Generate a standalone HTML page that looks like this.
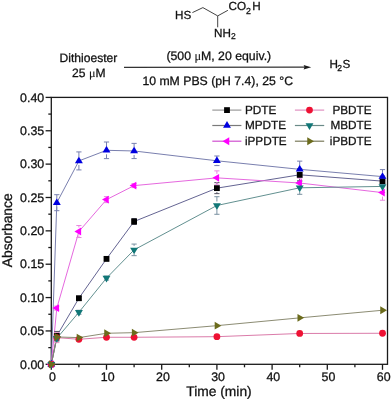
<!DOCTYPE html>
<html><head><meta charset="utf-8"><style>
html,body{margin:0;padding:0;background:#fff;width:392px;height:400px;overflow:hidden;font-family:"Liberation Sans",sans-serif;}
svg{display:block;will-change:transform;} text{text-rendering:geometricPrecision;}
</style></head><body>
<svg width="392" height="400" viewBox="0 0 392 400">
<rect width="392" height="400" fill="#fff"/>
<g font-family="Liberation Sans, sans-serif" fill="#111" stroke="#111" stroke-width="0.28">
<text x="175" y="19.1" font-size="11.7">HS</text>
<polyline points="192.4,12.6 202.9,7.6 217.7,15.9 227.9,10.3" fill="none" stroke="#444" stroke-width="1" />
<line x1="217.7" y1="15.9" x2="217.7" y2="27.3" stroke="#444" stroke-width="1"/>
<text x="214.0" y="36.8" font-size="11.7">NH</text><text x="231.0" y="39.4" font-size="8.5">2</text>
<text x="228.6" y="10.4" font-size="11.7">CO</text><text x="245.9" y="13.5" font-size="8.8">2</text><text x="252.2" y="10.4" font-size="11.7">H</text>
<text x="88.4" y="62.2" font-size="12.1" text-anchor="middle">Dithioester</text>
<text x="88.8" y="76.8" font-size="12.1" text-anchor="middle">25 <tspan font-family="Liberation Serif, serif" stroke-width="0.1">&#956;</tspan>M</text>
<text x="218.8" y="59.6" font-size="12.3" text-anchor="middle">(500 <tspan font-family="Liberation Serif, serif" stroke-width="0.1">&#956;</tspan>M, 20 equiv.)</text>
<text x="217.7" y="85.2" font-size="12.25" text-anchor="middle">10 mM PBS (pH 7.4), 25 &#176;C</text>
<line x1="124.0" y1="67.4" x2="306" y2="67.2" stroke="#333" stroke-width="1.25"/>
<polygon points="303.6,65.0 311.2,67.3 303.6,69.6 304.6,67.3" fill="#1a1a1a" stroke="none"/>
<text x="329.5" y="68.4" font-size="11.7">H</text><text x="337.2" y="71.1" font-size="8.6">2</text><text x="342.4" y="68.4" font-size="11.7">S</text>
</g>
<g stroke="#1a1a1a" stroke-width="1.3" fill="none">
<rect x="51.3" y="97.4" width="336.2" height="266.9"/>
<line x1="45.6" y1="364.30" x2="51.3" y2="364.30"/>
<line x1="45.6" y1="330.94" x2="51.3" y2="330.94"/>
<line x1="45.6" y1="297.57" x2="51.3" y2="297.57"/>
<line x1="45.6" y1="264.21" x2="51.3" y2="264.21"/>
<line x1="45.6" y1="230.85" x2="51.3" y2="230.85"/>
<line x1="45.6" y1="197.49" x2="51.3" y2="197.49"/>
<line x1="45.6" y1="164.12" x2="51.3" y2="164.12"/>
<line x1="45.6" y1="130.76" x2="51.3" y2="130.76"/>
<line x1="45.6" y1="97.40" x2="51.3" y2="97.40"/>
<line x1="48.3" y1="347.62" x2="51.3" y2="347.62"/>
<line x1="48.3" y1="314.26" x2="51.3" y2="314.26"/>
<line x1="48.3" y1="280.89" x2="51.3" y2="280.89"/>
<line x1="48.3" y1="247.53" x2="51.3" y2="247.53"/>
<line x1="48.3" y1="214.17" x2="51.3" y2="214.17"/>
<line x1="48.3" y1="180.81" x2="51.3" y2="180.81"/>
<line x1="48.3" y1="147.44" x2="51.3" y2="147.44"/>
<line x1="48.3" y1="114.08" x2="51.3" y2="114.08"/>
<line x1="51.30" y1="364.3" x2="51.30" y2="369.8"/>
<line x1="106.50" y1="364.3" x2="106.50" y2="369.8"/>
<line x1="161.70" y1="364.3" x2="161.70" y2="369.8"/>
<line x1="216.90" y1="364.3" x2="216.90" y2="369.8"/>
<line x1="272.10" y1="364.3" x2="272.10" y2="369.8"/>
<line x1="327.30" y1="364.3" x2="327.30" y2="369.8"/>
<line x1="382.50" y1="364.3" x2="382.50" y2="369.8"/>
<line x1="78.90" y1="364.3" x2="78.90" y2="367.3"/>
<line x1="134.10" y1="364.3" x2="134.10" y2="367.3"/>
<line x1="189.30" y1="364.3" x2="189.30" y2="367.3"/>
<line x1="244.50" y1="364.3" x2="244.50" y2="367.3"/>
<line x1="299.70" y1="364.3" x2="299.70" y2="367.3"/>
<line x1="354.90" y1="364.3" x2="354.90" y2="367.3"/>
</g>
<g font-family="Liberation Sans, sans-serif" fill="#111" font-size="12.4" stroke="#111" stroke-width="0.28">
<text x="44.2" y="368.55" text-anchor="end">0.00</text>
<text x="44.2" y="335.19" text-anchor="end">0.05</text>
<text x="44.2" y="301.82" text-anchor="end">0.10</text>
<text x="44.2" y="268.46" text-anchor="end">0.15</text>
<text x="44.2" y="235.10" text-anchor="end">0.20</text>
<text x="44.2" y="201.74" text-anchor="end">0.25</text>
<text x="44.2" y="168.37" text-anchor="end">0.30</text>
<text x="44.2" y="135.01" text-anchor="end">0.35</text>
<text x="44.2" y="101.65" text-anchor="end">0.40</text>
<text x="52.50" y="380.7" text-anchor="middle">0</text>
<text x="107.70" y="380.7" text-anchor="middle">10</text>
<text x="162.90" y="380.7" text-anchor="middle">20</text>
<text x="218.10" y="380.7" text-anchor="middle">30</text>
<text x="273.30" y="380.7" text-anchor="middle">40</text>
<text x="328.50" y="380.7" text-anchor="middle">50</text>
<text x="383.70" y="380.7" text-anchor="middle">60</text>
</g>
<text x="219.0" y="395.8" font-family="Liberation Sans, sans-serif" font-size="13.8" text-anchor="middle" fill="#111" stroke="#111" stroke-width="0.28">Time (min)</text>
<text transform="translate(11.7,230.3) rotate(-90)" font-family="Liberation Sans, sans-serif" font-size="13.9" text-anchor="middle" fill="#111" stroke="#111" stroke-width="0.28">Absorbance</text>
<polyline points="51.30,364.30 56.82,335.94 78.90,298.24 106.50,258.87 134.10,221.51 216.90,188.15 299.70,174.80 382.50,181.14" fill="none" stroke="#5c5c8c" stroke-width="0.95"/>
<polyline points="51.30,364.30 56.82,202.69 78.90,160.92 106.50,150.31 134.10,150.98 216.90,160.79 299.70,169.33 382.50,176.60" fill="none" stroke="#7278aa" stroke-width="0.95"/>
<polyline points="51.30,364.30 56.82,308.12 78.90,231.52 106.50,199.62 134.10,185.61 216.90,177.87 299.70,183.01 382.50,192.62" fill="none" stroke="#e460dc" stroke-width="0.95"/>
<polyline points="51.30,364.30 56.82,337.61 78.90,339.28 106.50,337.28 134.10,337.28 216.90,336.68 299.70,333.47 382.50,333.27" fill="none" stroke="#d874a4" stroke-width="0.95"/>
<polyline points="51.30,364.30 56.82,338.28 78.90,312.25 106.50,278.09 134.10,249.87 216.90,205.49 299.70,187.81 382.50,186.41" fill="none" stroke="#5a8a8a" stroke-width="0.95"/>
<polyline points="51.30,364.30 56.82,336.94 78.90,337.61 106.50,333.27 134.10,332.67 216.90,325.67 299.70,317.86 382.50,310.25" fill="none" stroke="#86866c" stroke-width="0.95"/>
<g stroke="#505060" stroke-width="1" fill="none"><line x1="56.82" y1="331.44" x2="56.82" y2="331.94"/><line x1="56.82" y1="339.94" x2="56.82" y2="340.44"/><line x1="54.22" y1="331.44" x2="59.42" y2="331.44"/><line x1="54.22" y1="340.44" x2="59.42" y2="340.44"/></g>
<g stroke="#505060" stroke-width="1" fill="none"><line x1="76.30" y1="296.24" x2="81.50" y2="296.24"/><line x1="76.30" y1="300.24" x2="81.50" y2="300.24"/></g>
<g stroke="#505060" stroke-width="1" fill="none"><line x1="103.90" y1="256.87" x2="109.10" y2="256.87"/><line x1="103.90" y1="260.87" x2="109.10" y2="260.87"/></g>
<g stroke="#505060" stroke-width="1" fill="none"><line x1="131.50" y1="218.51" x2="136.70" y2="218.51"/><line x1="131.50" y1="224.51" x2="136.70" y2="224.51"/></g>
<g stroke="#505060" stroke-width="1" fill="none"><line x1="216.90" y1="182.65" x2="216.90" y2="184.15"/><line x1="216.90" y1="192.15" x2="216.90" y2="193.65"/><line x1="214.30" y1="182.65" x2="219.50" y2="182.65"/><line x1="214.30" y1="193.65" x2="219.50" y2="193.65"/></g>
<g stroke="#505060" stroke-width="1" fill="none"><line x1="299.70" y1="168.80" x2="299.70" y2="170.80"/><line x1="299.70" y1="178.80" x2="299.70" y2="180.80"/><line x1="297.10" y1="168.80" x2="302.30" y2="168.80"/><line x1="297.10" y1="180.80" x2="302.30" y2="180.80"/></g>
<g stroke="#505060" stroke-width="1" fill="none"><line x1="382.50" y1="176.14" x2="382.50" y2="177.14"/><line x1="382.50" y1="185.14" x2="382.50" y2="186.14"/><line x1="379.90" y1="176.14" x2="385.10" y2="176.14"/><line x1="379.90" y1="186.14" x2="385.10" y2="186.14"/></g>
<g stroke="#7880b0" stroke-width="1" fill="none"><line x1="56.82" y1="194.69" x2="56.82" y2="198.69"/><line x1="56.82" y1="206.69" x2="56.82" y2="210.69"/><line x1="54.22" y1="194.69" x2="59.42" y2="194.69"/><line x1="54.22" y1="210.69" x2="59.42" y2="210.69"/></g>
<g stroke="#7880b0" stroke-width="1" fill="none"><line x1="78.90" y1="151.92" x2="78.90" y2="156.92"/><line x1="78.90" y1="164.92" x2="78.90" y2="169.92"/><line x1="76.30" y1="151.92" x2="81.50" y2="151.92"/><line x1="76.30" y1="169.92" x2="81.50" y2="169.92"/></g>
<g stroke="#7880b0" stroke-width="1" fill="none"><line x1="106.50" y1="142.01" x2="106.50" y2="146.31"/><line x1="106.50" y1="154.31" x2="106.50" y2="158.61"/><line x1="103.90" y1="142.01" x2="109.10" y2="142.01"/><line x1="103.90" y1="158.61" x2="109.10" y2="158.61"/></g>
<g stroke="#7880b0" stroke-width="1" fill="none"><line x1="134.10" y1="143.38" x2="134.10" y2="146.98"/><line x1="134.10" y1="154.98" x2="134.10" y2="158.58"/><line x1="131.50" y1="143.38" x2="136.70" y2="143.38"/><line x1="131.50" y1="158.58" x2="136.70" y2="158.58"/></g>
<g stroke="#7880b0" stroke-width="1" fill="none"><line x1="216.90" y1="155.99" x2="216.90" y2="156.79"/><line x1="216.90" y1="164.79" x2="216.90" y2="165.59"/><line x1="214.30" y1="155.99" x2="219.50" y2="155.99"/><line x1="214.30" y1="165.59" x2="219.50" y2="165.59"/></g>
<g stroke="#7880b0" stroke-width="1" fill="none"><line x1="299.70" y1="161.13" x2="299.70" y2="165.33"/><line x1="299.70" y1="173.33" x2="299.70" y2="177.53"/><line x1="297.10" y1="161.13" x2="302.30" y2="161.13"/><line x1="297.10" y1="177.53" x2="302.30" y2="177.53"/></g>
<g stroke="#7880b0" stroke-width="1" fill="none"><line x1="382.50" y1="169.60" x2="382.50" y2="172.60"/><line x1="382.50" y1="180.60" x2="382.50" y2="183.60"/><line x1="379.90" y1="169.60" x2="385.10" y2="169.60"/><line x1="379.90" y1="183.60" x2="385.10" y2="183.60"/></g>
<g stroke="#e888e0" stroke-width="1" fill="none"><line x1="54.22" y1="306.12" x2="59.42" y2="306.12"/><line x1="54.22" y1="310.12" x2="59.42" y2="310.12"/></g>
<g stroke="#e888e0" stroke-width="1" fill="none"><line x1="78.90" y1="225.52" x2="78.90" y2="227.52"/><line x1="78.90" y1="235.52" x2="78.90" y2="237.52"/><line x1="76.30" y1="225.52" x2="81.50" y2="225.52"/><line x1="76.30" y1="237.52" x2="81.50" y2="237.52"/></g>
<g stroke="#e888e0" stroke-width="1" fill="none"><line x1="103.90" y1="196.62" x2="109.10" y2="196.62"/><line x1="103.90" y1="202.62" x2="109.10" y2="202.62"/></g>
<g stroke="#e888e0" stroke-width="1" fill="none"><line x1="131.50" y1="183.61" x2="136.70" y2="183.61"/><line x1="131.50" y1="187.61" x2="136.70" y2="187.61"/></g>
<g stroke="#e888e0" stroke-width="1" fill="none"><line x1="216.90" y1="170.87" x2="216.90" y2="173.87"/><line x1="216.90" y1="181.87" x2="216.90" y2="184.87"/><line x1="214.30" y1="170.87" x2="219.50" y2="170.87"/><line x1="214.30" y1="184.87" x2="219.50" y2="184.87"/></g>
<g stroke="#e888e0" stroke-width="1" fill="none"><line x1="299.70" y1="178.01" x2="299.70" y2="179.01"/><line x1="299.70" y1="187.01" x2="299.70" y2="188.01"/><line x1="297.10" y1="178.01" x2="302.30" y2="178.01"/><line x1="297.10" y1="188.01" x2="302.30" y2="188.01"/></g>
<g stroke="#e888e0" stroke-width="1" fill="none"><line x1="382.50" y1="185.02" x2="382.50" y2="188.62"/><line x1="382.50" y1="196.62" x2="382.50" y2="200.22"/><line x1="379.90" y1="185.02" x2="385.10" y2="185.02"/><line x1="379.90" y1="200.22" x2="385.10" y2="200.22"/></g>
<g stroke="#e890c0" stroke-width="1" fill="none"><line x1="56.82" y1="332.61" x2="56.82" y2="333.61"/><line x1="56.82" y1="341.61" x2="56.82" y2="342.61"/><line x1="54.22" y1="332.61" x2="59.42" y2="332.61"/><line x1="54.22" y1="342.61" x2="59.42" y2="342.61"/></g>
<g stroke="#7890a0" stroke-width="1" fill="none"><line x1="54.22" y1="335.28" x2="59.42" y2="335.28"/><line x1="54.22" y1="341.28" x2="59.42" y2="341.28"/></g>
<g stroke="#7890a0" stroke-width="1" fill="none"><line x1="76.30" y1="310.25" x2="81.50" y2="310.25"/><line x1="76.30" y1="314.25" x2="81.50" y2="314.25"/></g>
<g stroke="#7890a0" stroke-width="1" fill="none"><line x1="103.90" y1="276.09" x2="109.10" y2="276.09"/><line x1="103.90" y1="280.09" x2="109.10" y2="280.09"/></g>
<g stroke="#7890a0" stroke-width="1" fill="none"><line x1="134.10" y1="244.07" x2="134.10" y2="245.87"/><line x1="134.10" y1="253.87" x2="134.10" y2="255.67"/><line x1="131.50" y1="244.07" x2="136.70" y2="244.07"/><line x1="131.50" y1="255.67" x2="136.70" y2="255.67"/></g>
<g stroke="#7890a0" stroke-width="1" fill="none"><line x1="216.90" y1="196.69" x2="216.90" y2="201.49"/><line x1="216.90" y1="209.49" x2="216.90" y2="214.29"/><line x1="214.30" y1="196.69" x2="219.50" y2="196.69"/><line x1="214.30" y1="214.29" x2="219.50" y2="214.29"/></g>
<g stroke="#7890a0" stroke-width="1" fill="none"><line x1="299.70" y1="181.31" x2="299.70" y2="183.81"/><line x1="299.70" y1="191.81" x2="299.70" y2="194.31"/><line x1="297.10" y1="181.31" x2="302.30" y2="181.31"/><line x1="297.10" y1="194.31" x2="302.30" y2="194.31"/></g>
<g stroke="#7890a0" stroke-width="1" fill="none"><line x1="382.50" y1="180.41" x2="382.50" y2="182.41"/><line x1="382.50" y1="190.41" x2="382.50" y2="192.41"/><line x1="379.90" y1="180.41" x2="385.10" y2="180.41"/><line x1="379.90" y1="192.41" x2="385.10" y2="192.41"/></g>
<rect x="48.40" y="361.40" width="5.80" height="5.80" fill="#000000"/>
<rect x="53.92" y="333.04" width="5.80" height="5.80" fill="#000000"/>
<rect x="76.00" y="295.34" width="5.80" height="5.80" fill="#000000"/>
<rect x="103.60" y="255.97" width="5.80" height="5.80" fill="#000000"/>
<rect x="131.20" y="218.61" width="5.80" height="5.80" fill="#000000"/>
<rect x="214.00" y="185.25" width="5.80" height="5.80" fill="#000000"/>
<rect x="296.80" y="171.90" width="5.80" height="5.80" fill="#000000"/>
<rect x="379.60" y="178.24" width="5.80" height="5.80" fill="#000000"/>
<polygon points="51.30,359.83 55.25,366.53 47.35,366.53" fill="#0000e0"/>
<polygon points="56.82,198.23 60.77,204.93 52.87,204.93" fill="#0000e0"/>
<polygon points="78.90,156.46 82.85,163.16 74.95,163.16" fill="#0000e0"/>
<polygon points="106.50,145.85 110.45,152.55 102.55,152.55" fill="#0000e0"/>
<polygon points="134.10,146.51 138.05,153.21 130.15,153.21" fill="#0000e0"/>
<polygon points="216.90,156.32 220.85,163.02 212.95,163.02" fill="#0000e0"/>
<polygon points="299.70,164.86 303.65,171.56 295.75,171.56" fill="#0000e0"/>
<polygon points="382.50,172.14 386.45,178.84 378.55,178.84" fill="#0000e0"/>
<polygon points="46.83,364.30 53.53,360.35 53.53,368.25" fill="#ff00ff"/>
<polygon points="52.35,308.12 59.05,304.17 59.05,312.07" fill="#ff00ff"/>
<polygon points="74.43,231.52 81.13,227.57 81.13,235.47" fill="#ff00ff"/>
<polygon points="102.03,199.62 108.73,195.67 108.73,203.57" fill="#ff00ff"/>
<polygon points="129.63,185.61 136.33,181.66 136.33,189.56" fill="#ff00ff"/>
<polygon points="212.43,177.87 219.13,173.92 219.13,181.82" fill="#ff00ff"/>
<polygon points="295.23,183.01 301.93,179.06 301.93,186.96" fill="#ff00ff"/>
<polygon points="378.03,192.62 384.73,188.67 384.73,196.57" fill="#ff00ff"/>
<circle cx="51.30" cy="364.30" r="3.40" fill="#ee1133"/>
<circle cx="56.82" cy="337.61" r="3.40" fill="#ee1133"/>
<circle cx="78.90" cy="339.28" r="3.40" fill="#ee1133"/>
<circle cx="106.50" cy="337.28" r="3.40" fill="#ee1133"/>
<circle cx="134.10" cy="337.28" r="3.40" fill="#ee1133"/>
<circle cx="216.90" cy="336.68" r="3.40" fill="#ee1133"/>
<circle cx="299.70" cy="333.47" r="3.40" fill="#ee1133"/>
<circle cx="382.50" cy="333.27" r="3.40" fill="#ee1133"/>
<polygon points="51.30,368.77 55.25,362.07 47.35,362.07" fill="#117777"/>
<polygon points="56.82,342.74 60.77,336.04 52.87,336.04" fill="#117777"/>
<polygon points="78.90,316.72 82.85,310.02 74.95,310.02" fill="#117777"/>
<polygon points="106.50,282.56 110.45,275.86 102.55,275.86" fill="#117777"/>
<polygon points="134.10,254.33 138.05,247.63 130.15,247.63" fill="#117777"/>
<polygon points="216.90,209.96 220.85,203.26 212.95,203.26" fill="#117777"/>
<polygon points="299.70,192.28 303.65,185.58 295.75,185.58" fill="#117777"/>
<polygon points="382.50,190.88 386.45,184.18 378.55,184.18" fill="#117777"/>
<polygon points="55.77,364.30 49.07,360.35 49.07,368.25" fill="#6b6b1c"/>
<polygon points="61.29,336.94 54.59,332.99 54.59,340.89" fill="#6b6b1c"/>
<polygon points="83.37,337.61 76.67,333.66 76.67,341.56" fill="#6b6b1c"/>
<polygon points="110.97,333.27 104.27,329.32 104.27,337.22" fill="#6b6b1c"/>
<polygon points="138.57,332.67 131.87,328.72 131.87,336.62" fill="#6b6b1c"/>
<polygon points="221.37,325.67 214.67,321.72 214.67,329.62" fill="#6b6b1c"/>
<polygon points="304.17,317.86 297.47,313.91 297.47,321.81" fill="#6b6b1c"/>
<polygon points="386.97,310.25 380.27,306.30 380.27,314.20" fill="#6b6b1c"/>
<line x1="212.3" y1="110.1" x2="241.4" y2="110.1" stroke="#9a9a9a" stroke-width="1.2"/>
<rect x="224.10" y="107.20" width="5.80" height="5.80" fill="#000000"/>
<text x="244.9" y="113.85" font-family="Liberation Sans, sans-serif" font-size="11.75" fill="#111" stroke="#111" stroke-width="0.28">PDTE</text>
<line x1="212.3" y1="125.5" x2="241.4" y2="125.5" stroke="#7a7a7a" stroke-width="1.2"/>
<polygon points="227.00,121.03 230.95,127.73 223.05,127.73" fill="#0000e0"/>
<text x="244.9" y="129.25" font-family="Liberation Sans, sans-serif" font-size="11.75" fill="#111" stroke="#111" stroke-width="0.28">MPDTE</text>
<line x1="212.3" y1="141.2" x2="241.4" y2="141.2" stroke="#d050d0" stroke-width="1.2"/>
<polygon points="222.53,141.20 229.23,137.25 229.23,145.15" fill="#ff00ff"/>
<text x="244.9" y="144.95" font-family="Liberation Sans, sans-serif" font-size="11.75" fill="#111" stroke="#111" stroke-width="0.28">iPPDTE</text>
<line x1="294.9" y1="110.1" x2="324.2" y2="110.1" stroke="#e090c0" stroke-width="1.2"/>
<circle cx="309.50" cy="110.10" r="3.40" fill="#ee1133"/>
<text x="371.6" y="113.85" font-family="Liberation Sans, sans-serif" font-size="11.75" fill="#111" stroke="#111" stroke-width="0.28" text-anchor="end">PBDTE</text>
<line x1="294.9" y1="125.5" x2="324.2" y2="125.5" stroke="#6a8a88" stroke-width="1.2"/>
<polygon points="309.50,129.97 313.45,123.27 305.55,123.27" fill="#117777"/>
<text x="371.6" y="129.25" font-family="Liberation Sans, sans-serif" font-size="11.75" fill="#111" stroke="#111" stroke-width="0.28" text-anchor="end">MBDTE</text>
<line x1="294.9" y1="141.2" x2="324.2" y2="141.2" stroke="#7a7a5a" stroke-width="1.2"/>
<polygon points="313.97,141.20 307.27,137.25 307.27,145.15" fill="#6b6b1c"/>
<text x="371.6" y="144.95" font-family="Liberation Sans, sans-serif" font-size="11.75" fill="#111" stroke="#111" stroke-width="0.28" text-anchor="end">iPBDTE</text>
</svg>
</body></html>
